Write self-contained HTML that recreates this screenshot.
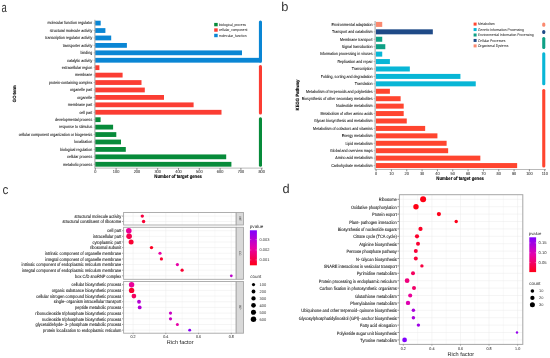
<!DOCTYPE html>
<html><head><meta charset="utf-8"><style>
html,body{margin:0;padding:0;background:#fff;}
body{width:550px;height:358px;overflow:hidden;}
svg{display:block;font-family:"Liberation Sans", sans-serif;will-change:transform;text-rendering:geometricPrecision;}
</style></head><body>
<svg width="550" height="358" viewBox="0 0 550 358">
<rect width="550" height="358" fill="#fff"/>
<g transform="translate(1.6,12.0) scale(0.7,1)">
<text x="0.00" y="0.00" font-size="13.5" text-anchor="start" fill="#333" font-weight="normal" >a</text>
</g>
<rect x="95.20" y="20.70" width="5.50" height="4.80" fill="#0a86d4" />
<text transform="translate(92.20,24.40) scale(0.8475,1)" font-size="4.272" text-anchor="end" fill="#111" font-weight="normal" stroke="#111" stroke-width="0.07">molecular function regulator</text>
<line x1="93.60" y1="23.10" x2="95.00" y2="23.10" stroke="#8a8a8a" stroke-width="0.5"/>
<rect x="95.20" y="28.13" width="10.20" height="4.80" fill="#0a86d4" />
<text transform="translate(92.20,31.83) scale(0.8475,1)" font-size="4.272" text-anchor="end" fill="#111" font-weight="normal" stroke="#111" stroke-width="0.07">structural molecule activity</text>
<line x1="93.60" y1="30.53" x2="95.00" y2="30.53" stroke="#8a8a8a" stroke-width="0.5"/>
<rect x="95.20" y="35.56" width="16.00" height="4.80" fill="#0a86d4" />
<text transform="translate(92.20,39.26) scale(0.8475,1)" font-size="4.272" text-anchor="end" fill="#111" font-weight="normal" stroke="#111" stroke-width="0.07">transcription regulator activity</text>
<line x1="93.60" y1="37.96" x2="95.00" y2="37.96" stroke="#8a8a8a" stroke-width="0.5"/>
<rect x="95.20" y="42.99" width="31.70" height="4.80" fill="#0a86d4" />
<text transform="translate(92.20,46.69) scale(0.8475,1)" font-size="4.272" text-anchor="end" fill="#111" font-weight="normal" stroke="#111" stroke-width="0.07">transporter activity</text>
<line x1="93.60" y1="45.39" x2="95.00" y2="45.39" stroke="#8a8a8a" stroke-width="0.5"/>
<rect x="95.20" y="50.42" width="146.80" height="4.80" fill="#0a86d4" />
<text transform="translate(92.20,54.12) scale(0.8475,1)" font-size="4.272" text-anchor="end" fill="#111" font-weight="normal" stroke="#111" stroke-width="0.07">binding</text>
<line x1="93.60" y1="52.82" x2="95.00" y2="52.82" stroke="#8a8a8a" stroke-width="0.5"/>
<rect x="95.20" y="57.85" width="166.30" height="4.80" fill="#0a86d4" />
<text transform="translate(92.20,61.55) scale(0.8475,1)" font-size="4.272" text-anchor="end" fill="#111" font-weight="normal" stroke="#111" stroke-width="0.07">catalytic activity</text>
<line x1="93.60" y1="60.25" x2="95.00" y2="60.25" stroke="#8a8a8a" stroke-width="0.5"/>
<rect x="95.20" y="65.28" width="4.20" height="4.80" fill="#fb3d33" />
<text transform="translate(92.20,68.98) scale(0.8475,1)" font-size="4.272" text-anchor="end" fill="#111" font-weight="normal" stroke="#111" stroke-width="0.07">extracellular region</text>
<line x1="93.60" y1="67.68" x2="95.00" y2="67.68" stroke="#8a8a8a" stroke-width="0.5"/>
<rect x="95.20" y="72.71" width="27.40" height="4.80" fill="#fb3d33" />
<text transform="translate(92.20,76.41) scale(0.8475,1)" font-size="4.272" text-anchor="end" fill="#111" font-weight="normal" stroke="#111" stroke-width="0.07">membrane</text>
<line x1="93.60" y1="75.11" x2="95.00" y2="75.11" stroke="#8a8a8a" stroke-width="0.5"/>
<rect x="95.20" y="80.14" width="46.30" height="4.80" fill="#fb3d33" />
<text transform="translate(92.20,83.84) scale(0.8475,1)" font-size="4.272" text-anchor="end" fill="#111" font-weight="normal" stroke="#111" stroke-width="0.07">protein-containing complex</text>
<line x1="93.60" y1="82.54" x2="95.00" y2="82.54" stroke="#8a8a8a" stroke-width="0.5"/>
<rect x="95.20" y="87.57" width="49.60" height="4.80" fill="#fb3d33" />
<text transform="translate(92.20,91.27) scale(0.8475,1)" font-size="4.272" text-anchor="end" fill="#111" font-weight="normal" stroke="#111" stroke-width="0.07">organelle part</text>
<line x1="93.60" y1="89.97" x2="95.00" y2="89.97" stroke="#8a8a8a" stroke-width="0.5"/>
<rect x="95.20" y="95.00" width="68.80" height="4.80" fill="#fb3d33" />
<text transform="translate(92.20,98.70) scale(0.8475,1)" font-size="4.272" text-anchor="end" fill="#111" font-weight="normal" stroke="#111" stroke-width="0.07">organelle</text>
<line x1="93.60" y1="97.40" x2="95.00" y2="97.40" stroke="#8a8a8a" stroke-width="0.5"/>
<rect x="95.20" y="102.43" width="98.40" height="4.80" fill="#fb3d33" />
<text transform="translate(92.20,106.13) scale(0.8475,1)" font-size="4.272" text-anchor="end" fill="#111" font-weight="normal" stroke="#111" stroke-width="0.07">membrane part</text>
<line x1="93.60" y1="104.83" x2="95.00" y2="104.83" stroke="#8a8a8a" stroke-width="0.5"/>
<rect x="95.20" y="109.86" width="126.30" height="4.80" fill="#fb3d33" />
<text transform="translate(92.20,113.56) scale(0.8475,1)" font-size="4.272" text-anchor="end" fill="#111" font-weight="normal" stroke="#111" stroke-width="0.07">cell part</text>
<line x1="93.60" y1="112.26" x2="95.00" y2="112.26" stroke="#8a8a8a" stroke-width="0.5"/>
<rect x="95.20" y="117.29" width="5.40" height="4.80" fill="#078b3a" />
<text transform="translate(92.20,120.99) scale(0.8475,1)" font-size="4.272" text-anchor="end" fill="#111" font-weight="normal" stroke="#111" stroke-width="0.07">developmental process</text>
<line x1="93.60" y1="119.69" x2="95.00" y2="119.69" stroke="#8a8a8a" stroke-width="0.5"/>
<rect x="95.20" y="124.72" width="17.90" height="4.80" fill="#078b3a" />
<text transform="translate(92.20,128.42) scale(0.8475,1)" font-size="4.272" text-anchor="end" fill="#111" font-weight="normal" stroke="#111" stroke-width="0.07">response to stimulus</text>
<line x1="93.60" y1="127.12" x2="95.00" y2="127.12" stroke="#8a8a8a" stroke-width="0.5"/>
<rect x="95.20" y="132.15" width="21.10" height="4.80" fill="#078b3a" />
<text transform="translate(92.20,135.85) scale(0.8475,1)" font-size="4.272" text-anchor="end" fill="#111" font-weight="normal" stroke="#111" stroke-width="0.07">cellular component organization or biogenesis</text>
<line x1="93.60" y1="134.55" x2="95.00" y2="134.55" stroke="#8a8a8a" stroke-width="0.5"/>
<rect x="95.20" y="139.58" width="25.80" height="4.80" fill="#078b3a" />
<text transform="translate(92.20,143.28) scale(0.8475,1)" font-size="4.272" text-anchor="end" fill="#111" font-weight="normal" stroke="#111" stroke-width="0.07">localization</text>
<line x1="93.60" y1="141.98" x2="95.00" y2="141.98" stroke="#8a8a8a" stroke-width="0.5"/>
<rect x="95.20" y="147.01" width="30.60" height="4.80" fill="#078b3a" />
<text transform="translate(92.20,150.71) scale(0.8475,1)" font-size="4.272" text-anchor="end" fill="#111" font-weight="normal" stroke="#111" stroke-width="0.07">biological regulation</text>
<line x1="93.60" y1="149.41" x2="95.00" y2="149.41" stroke="#8a8a8a" stroke-width="0.5"/>
<rect x="95.20" y="154.44" width="131.00" height="4.80" fill="#078b3a" />
<text transform="translate(92.20,158.14) scale(0.8475,1)" font-size="4.272" text-anchor="end" fill="#111" font-weight="normal" stroke="#111" stroke-width="0.07">cellular process</text>
<line x1="93.60" y1="156.84" x2="95.00" y2="156.84" stroke="#8a8a8a" stroke-width="0.5"/>
<rect x="95.20" y="161.87" width="136.20" height="4.80" fill="#078b3a" />
<text transform="translate(92.20,165.57) scale(0.8475,1)" font-size="4.272" text-anchor="end" fill="#111" font-weight="normal" stroke="#111" stroke-width="0.07">metabolic process</text>
<line x1="93.60" y1="164.27" x2="95.00" y2="164.27" stroke="#8a8a8a" stroke-width="0.5"/>
<line x1="94.90" y1="19.80" x2="94.90" y2="168.30" stroke="#8a8a8a" stroke-width="0.8"/>
<line x1="94.90" y1="168.10" x2="262.80" y2="168.10" stroke="#8a8a8a" stroke-width="0.6"/>
<line x1="95.30" y1="168.10" x2="95.30" y2="169.90" stroke="#555" stroke-width="0.7"/>
<text transform="translate(95.30,173.40) scale(0.8929,1)" font-size="4.368" text-anchor="middle" fill="#333" font-weight="normal" stroke="#333" stroke-width="0.06">0</text>
<line x1="116.10" y1="168.10" x2="116.10" y2="169.90" stroke="#555" stroke-width="0.7"/>
<text transform="translate(116.10,173.40) scale(0.8929,1)" font-size="4.368" text-anchor="middle" fill="#333" font-weight="normal" stroke="#333" stroke-width="0.06">100</text>
<line x1="136.90" y1="168.10" x2="136.90" y2="169.90" stroke="#555" stroke-width="0.7"/>
<text transform="translate(136.90,173.40) scale(0.8929,1)" font-size="4.368" text-anchor="middle" fill="#333" font-weight="normal" stroke="#333" stroke-width="0.06">200</text>
<line x1="157.70" y1="168.10" x2="157.70" y2="169.90" stroke="#555" stroke-width="0.7"/>
<text transform="translate(157.70,173.40) scale(0.8929,1)" font-size="4.368" text-anchor="middle" fill="#333" font-weight="normal" stroke="#333" stroke-width="0.06">300</text>
<line x1="178.50" y1="168.10" x2="178.50" y2="169.90" stroke="#555" stroke-width="0.7"/>
<text transform="translate(178.50,173.40) scale(0.8929,1)" font-size="4.368" text-anchor="middle" fill="#333" font-weight="normal" stroke="#333" stroke-width="0.06">400</text>
<line x1="199.30" y1="168.10" x2="199.30" y2="169.90" stroke="#555" stroke-width="0.7"/>
<text transform="translate(199.30,173.40) scale(0.8929,1)" font-size="4.368" text-anchor="middle" fill="#333" font-weight="normal" stroke="#333" stroke-width="0.06">500</text>
<line x1="220.10" y1="168.10" x2="220.10" y2="169.90" stroke="#555" stroke-width="0.7"/>
<text transform="translate(220.10,173.40) scale(0.8929,1)" font-size="4.368" text-anchor="middle" fill="#333" font-weight="normal" stroke="#333" stroke-width="0.06">600</text>
<line x1="240.90" y1="168.10" x2="240.90" y2="169.90" stroke="#555" stroke-width="0.7"/>
<text transform="translate(240.90,173.40) scale(0.8929,1)" font-size="4.368" text-anchor="middle" fill="#333" font-weight="normal" stroke="#333" stroke-width="0.06">700</text>
<line x1="261.70" y1="168.10" x2="261.70" y2="169.90" stroke="#555" stroke-width="0.7"/>
<text transform="translate(261.70,173.40) scale(0.8929,1)" font-size="4.368" text-anchor="middle" fill="#333" font-weight="normal" stroke="#333" stroke-width="0.06">800</text>
<rect x="258.90" y="20.50" width="3.10" height="42.00" fill="#0a86d4" rx="1.5"/>
<rect x="258.90" y="65.10" width="3.10" height="49.50" fill="#fb3d33" rx="1.5"/>
<rect x="258.90" y="117.20" width="3.10" height="49.50" fill="#078b3a" rx="1.5"/>
<text transform="translate(178.10,178.43) scale(0.8475,1)" font-size="5.015" text-anchor="middle" fill="#000" font-weight="bold" stroke="#000" stroke-width="0.12">Number of target genes</text>
<g transform="translate(14.3,93.7) rotate(-90)">
<text transform="translate(0.00,1.53) scale(0.9091,1)" font-size="4.675" text-anchor="middle" fill="#000" font-weight="bold" stroke="#000" stroke-width="0.12">GO term</text>
</g>
<rect x="214.20" y="22.90" width="3.50" height="3.40" fill="#078b3a" />
<text transform="translate(218.90,25.79) scale(0.8696,1)" font-size="3.795" text-anchor="start" fill="#222" font-weight="normal" stroke="#222" stroke-width="0.03">biological_process</text>
<rect x="214.20" y="28.35" width="3.50" height="3.40" fill="#fb3d33" />
<text transform="translate(218.90,31.24) scale(0.8696,1)" font-size="3.795" text-anchor="start" fill="#222" font-weight="normal" stroke="#222" stroke-width="0.03">cellular_component</text>
<rect x="214.20" y="33.80" width="3.50" height="3.40" fill="#0a86d4" />
<text transform="translate(218.90,36.69) scale(0.8696,1)" font-size="3.795" text-anchor="start" fill="#222" font-weight="normal" stroke="#222" stroke-width="0.03">molecular_function</text>
<text x="281.30" y="11.20" font-size="12.8" text-anchor="start" fill="#333" font-weight="normal" >b</text>
<rect x="375.95" y="21.90" width="6.28" height="5.00" fill="#fa8a70" />
<text transform="translate(372.60,25.70) scale(0.8475,1)" font-size="4.272" text-anchor="end" fill="#111" font-weight="normal" stroke="#111" stroke-width="0.07">Environmental adaptation</text>
<line x1="373.60" y1="24.40" x2="375.20" y2="24.40" stroke="#8a8a8a" stroke-width="0.5"/>
<rect x="375.95" y="29.33" width="56.87" height="5.00" fill="#1f4a87" />
<text transform="translate(372.60,33.13) scale(0.8475,1)" font-size="4.272" text-anchor="end" fill="#111" font-weight="normal" stroke="#111" stroke-width="0.07">Transport and catabolism</text>
<line x1="373.60" y1="31.83" x2="375.20" y2="31.83" stroke="#8a8a8a" stroke-width="0.5"/>
<rect x="375.95" y="36.76" width="6.28" height="5.00" fill="#0ea085" />
<text transform="translate(372.60,40.56) scale(0.8475,1)" font-size="4.272" text-anchor="end" fill="#111" font-weight="normal" stroke="#111" stroke-width="0.07">Membrane transport</text>
<line x1="373.60" y1="39.26" x2="375.20" y2="39.26" stroke="#8a8a8a" stroke-width="0.5"/>
<rect x="375.95" y="44.19" width="9.35" height="5.00" fill="#0ea085" />
<text transform="translate(372.60,47.99) scale(0.8475,1)" font-size="4.272" text-anchor="end" fill="#111" font-weight="normal" stroke="#111" stroke-width="0.07">Signal transduction</text>
<line x1="373.60" y1="46.69" x2="375.20" y2="46.69" stroke="#8a8a8a" stroke-width="0.5"/>
<rect x="375.95" y="51.62" width="6.28" height="5.00" fill="#08b6d6" />
<text transform="translate(372.60,55.42) scale(0.8475,1)" font-size="4.272" text-anchor="end" fill="#111" font-weight="normal" stroke="#111" stroke-width="0.07">Information processing in viruses</text>
<line x1="373.60" y1="54.12" x2="375.20" y2="54.12" stroke="#8a8a8a" stroke-width="0.5"/>
<rect x="375.95" y="59.05" width="13.95" height="5.00" fill="#08b6d6" />
<text transform="translate(372.60,62.85) scale(0.8475,1)" font-size="4.272" text-anchor="end" fill="#111" font-weight="normal" stroke="#111" stroke-width="0.07">Replication and repair</text>
<line x1="373.60" y1="61.55" x2="375.20" y2="61.55" stroke="#8a8a8a" stroke-width="0.5"/>
<rect x="375.95" y="66.48" width="33.88" height="5.00" fill="#08b6d6" />
<text transform="translate(372.60,70.28) scale(0.8475,1)" font-size="4.272" text-anchor="end" fill="#111" font-weight="normal" stroke="#111" stroke-width="0.07">Transcription</text>
<line x1="373.60" y1="68.98" x2="375.20" y2="68.98" stroke="#8a8a8a" stroke-width="0.5"/>
<rect x="375.95" y="73.91" width="84.47" height="5.00" fill="#08b6d6" />
<text transform="translate(372.60,77.71) scale(0.8475,1)" font-size="4.272" text-anchor="end" fill="#111" font-weight="normal" stroke="#111" stroke-width="0.07">Folding, sorting and degradation</text>
<line x1="373.60" y1="76.41" x2="375.20" y2="76.41" stroke="#8a8a8a" stroke-width="0.5"/>
<rect x="375.95" y="81.34" width="99.80" height="5.00" fill="#08b6d6" />
<text transform="translate(372.60,85.14) scale(0.8475,1)" font-size="4.272" text-anchor="end" fill="#111" font-weight="normal" stroke="#111" stroke-width="0.07">Translation</text>
<line x1="373.60" y1="83.84" x2="375.20" y2="83.84" stroke="#8a8a8a" stroke-width="0.5"/>
<rect x="375.95" y="88.77" width="13.95" height="5.00" fill="#ff452f" />
<text transform="translate(372.60,92.57) scale(0.8475,1)" font-size="4.272" text-anchor="end" fill="#111" font-weight="normal" stroke="#111" stroke-width="0.07">Metabolism of terpenoids and polyketides</text>
<line x1="373.60" y1="91.27" x2="375.20" y2="91.27" stroke="#8a8a8a" stroke-width="0.5"/>
<rect x="375.95" y="96.20" width="24.68" height="5.00" fill="#ff452f" />
<text transform="translate(372.60,100.00) scale(0.8475,1)" font-size="4.272" text-anchor="end" fill="#111" font-weight="normal" stroke="#111" stroke-width="0.07">Biosynthesis of other secondary metabolites</text>
<line x1="373.60" y1="98.70" x2="375.20" y2="98.70" stroke="#8a8a8a" stroke-width="0.5"/>
<rect x="375.95" y="103.63" width="27.74" height="5.00" fill="#ff452f" />
<text transform="translate(372.60,107.43) scale(0.8475,1)" font-size="4.272" text-anchor="end" fill="#111" font-weight="normal" stroke="#111" stroke-width="0.07">Nucleotide metabolism</text>
<line x1="373.60" y1="106.13" x2="375.20" y2="106.13" stroke="#8a8a8a" stroke-width="0.5"/>
<rect x="375.95" y="111.06" width="27.74" height="5.00" fill="#ff452f" />
<text transform="translate(372.60,114.86) scale(0.8475,1)" font-size="4.272" text-anchor="end" fill="#111" font-weight="normal" stroke="#111" stroke-width="0.07">Metabolism of other amino acids</text>
<line x1="373.60" y1="113.56" x2="375.20" y2="113.56" stroke="#8a8a8a" stroke-width="0.5"/>
<rect x="375.95" y="118.49" width="30.81" height="5.00" fill="#ff452f" />
<text transform="translate(372.60,122.29) scale(0.8475,1)" font-size="4.272" text-anchor="end" fill="#111" font-weight="normal" stroke="#111" stroke-width="0.07">Glycan biosynthesis and metabolism</text>
<line x1="373.60" y1="120.99" x2="375.20" y2="120.99" stroke="#8a8a8a" stroke-width="0.5"/>
<rect x="375.95" y="125.92" width="49.21" height="5.00" fill="#ff452f" />
<text transform="translate(372.60,129.72) scale(0.8475,1)" font-size="4.272" text-anchor="end" fill="#111" font-weight="normal" stroke="#111" stroke-width="0.07">Metabolism of cofactors and vitamins</text>
<line x1="373.60" y1="128.42" x2="375.20" y2="128.42" stroke="#8a8a8a" stroke-width="0.5"/>
<rect x="375.95" y="133.35" width="61.47" height="5.00" fill="#ff452f" />
<text transform="translate(372.60,137.15) scale(0.8475,1)" font-size="4.272" text-anchor="end" fill="#111" font-weight="normal" stroke="#111" stroke-width="0.07">Energy metabolism</text>
<line x1="373.60" y1="135.85" x2="375.20" y2="135.85" stroke="#8a8a8a" stroke-width="0.5"/>
<rect x="375.95" y="140.78" width="70.67" height="5.00" fill="#ff452f" />
<text transform="translate(372.60,144.58) scale(0.8475,1)" font-size="4.272" text-anchor="end" fill="#111" font-weight="normal" stroke="#111" stroke-width="0.07">Lipid metabolism</text>
<line x1="373.60" y1="143.28" x2="375.20" y2="143.28" stroke="#8a8a8a" stroke-width="0.5"/>
<rect x="375.95" y="148.21" width="72.20" height="5.00" fill="#ff452f" />
<text transform="translate(372.60,152.01) scale(0.8475,1)" font-size="4.272" text-anchor="end" fill="#111" font-weight="normal" stroke="#111" stroke-width="0.07">Global and overview maps</text>
<line x1="373.60" y1="150.71" x2="375.20" y2="150.71" stroke="#8a8a8a" stroke-width="0.5"/>
<rect x="375.95" y="155.64" width="104.39" height="5.00" fill="#ff452f" />
<text transform="translate(372.60,159.44) scale(0.8475,1)" font-size="4.272" text-anchor="end" fill="#111" font-weight="normal" stroke="#111" stroke-width="0.07">Amino acid metabolism</text>
<line x1="373.60" y1="158.14" x2="375.20" y2="158.14" stroke="#8a8a8a" stroke-width="0.5"/>
<rect x="375.95" y="163.07" width="141.19" height="5.00" fill="#ff452f" />
<text transform="translate(372.60,166.87) scale(0.8475,1)" font-size="4.272" text-anchor="end" fill="#111" font-weight="normal" stroke="#111" stroke-width="0.07">Carbohydrate metabolism</text>
<line x1="373.60" y1="165.57" x2="375.20" y2="165.57" stroke="#8a8a8a" stroke-width="0.5"/>
<line x1="375.10" y1="21.00" x2="375.10" y2="169.60" stroke="#8a8a8a" stroke-width="0.8"/>
<line x1="375.10" y1="169.50" x2="546.00" y2="169.50" stroke="#8a8a8a" stroke-width="0.6"/>
<line x1="376.10" y1="169.50" x2="376.10" y2="171.30" stroke="#555" stroke-width="0.7"/>
<text transform="translate(376.10,174.90) scale(0.8929,1)" font-size="4.368" text-anchor="middle" fill="#333" font-weight="normal" stroke="#333" stroke-width="0.06">0</text>
<line x1="391.43" y1="169.50" x2="391.43" y2="171.30" stroke="#555" stroke-width="0.7"/>
<text transform="translate(391.43,174.90) scale(0.8929,1)" font-size="4.368" text-anchor="middle" fill="#333" font-weight="normal" stroke="#333" stroke-width="0.06">10</text>
<line x1="406.76" y1="169.50" x2="406.76" y2="171.30" stroke="#555" stroke-width="0.7"/>
<text transform="translate(406.76,174.90) scale(0.8929,1)" font-size="4.368" text-anchor="middle" fill="#333" font-weight="normal" stroke="#333" stroke-width="0.06">20</text>
<line x1="422.09" y1="169.50" x2="422.09" y2="171.30" stroke="#555" stroke-width="0.7"/>
<text transform="translate(422.09,174.90) scale(0.8929,1)" font-size="4.368" text-anchor="middle" fill="#333" font-weight="normal" stroke="#333" stroke-width="0.06">30</text>
<line x1="437.42" y1="169.50" x2="437.42" y2="171.30" stroke="#555" stroke-width="0.7"/>
<text transform="translate(437.42,174.90) scale(0.8929,1)" font-size="4.368" text-anchor="middle" fill="#333" font-weight="normal" stroke="#333" stroke-width="0.06">40</text>
<line x1="452.75" y1="169.50" x2="452.75" y2="171.30" stroke="#555" stroke-width="0.7"/>
<text transform="translate(452.75,174.90) scale(0.8929,1)" font-size="4.368" text-anchor="middle" fill="#333" font-weight="normal" stroke="#333" stroke-width="0.06">50</text>
<line x1="468.08" y1="169.50" x2="468.08" y2="171.30" stroke="#555" stroke-width="0.7"/>
<text transform="translate(468.08,174.90) scale(0.8929,1)" font-size="4.368" text-anchor="middle" fill="#333" font-weight="normal" stroke="#333" stroke-width="0.06">60</text>
<line x1="483.41" y1="169.50" x2="483.41" y2="171.30" stroke="#555" stroke-width="0.7"/>
<text transform="translate(483.41,174.90) scale(0.8929,1)" font-size="4.368" text-anchor="middle" fill="#333" font-weight="normal" stroke="#333" stroke-width="0.06">70</text>
<line x1="498.74" y1="169.50" x2="498.74" y2="171.30" stroke="#555" stroke-width="0.7"/>
<text transform="translate(498.74,174.90) scale(0.8929,1)" font-size="4.368" text-anchor="middle" fill="#333" font-weight="normal" stroke="#333" stroke-width="0.06">80</text>
<line x1="514.07" y1="169.50" x2="514.07" y2="171.30" stroke="#555" stroke-width="0.7"/>
<text transform="translate(514.07,174.90) scale(0.8929,1)" font-size="4.368" text-anchor="middle" fill="#333" font-weight="normal" stroke="#333" stroke-width="0.06">90</text>
<line x1="529.40" y1="169.50" x2="529.40" y2="171.30" stroke="#555" stroke-width="0.7"/>
<text transform="translate(529.40,174.90) scale(0.8929,1)" font-size="4.368" text-anchor="middle" fill="#333" font-weight="normal" stroke="#333" stroke-width="0.06">100</text>
<line x1="544.73" y1="169.50" x2="544.73" y2="171.30" stroke="#555" stroke-width="0.7"/>
<text transform="translate(544.73,174.90) scale(0.8929,1)" font-size="4.368" text-anchor="middle" fill="#333" font-weight="normal" stroke="#333" stroke-width="0.06">110</text>
<rect x="542.20" y="22.40" width="3.10" height="4.30" fill="#fa8a70" rx="1.5"/>
<rect x="542.20" y="29.90" width="3.10" height="4.10" fill="#1f4a87" rx="1.5"/>
<rect x="542.20" y="36.90" width="3.10" height="12.10" fill="#0ea085" rx="1.5"/>
<rect x="542.20" y="52.20" width="3.10" height="33.00" fill="#08b6d6" rx="1.5"/>
<rect x="542.20" y="88.90" width="3.10" height="78.50" fill="#ff452f" rx="1.5"/>
<text transform="translate(460.10,180.13) scale(0.8475,1)" font-size="5.015" text-anchor="middle" fill="#000" font-weight="bold" stroke="#000" stroke-width="0.12">Number of target genes</text>
<g transform="translate(297.2,95) rotate(-90)">
<text transform="translate(0.00,1.53) scale(0.9091,1)" font-size="4.675" text-anchor="middle" fill="#000" font-weight="bold" stroke="#000" stroke-width="0.12">KEGG Pathway</text>
</g>
<rect x="473.60" y="22.60" width="3.00" height="3.00" fill="#ff452f" />
<text transform="translate(478.00,25.29) scale(0.8696,1)" font-size="3.795" text-anchor="start" fill="#222" font-weight="normal" stroke="#222" stroke-width="0.03">Metabolism</text>
<rect x="473.60" y="28.05" width="3.00" height="3.00" fill="#08b6d6" />
<text transform="translate(478.00,30.74) scale(0.8696,1)" font-size="3.795" text-anchor="start" fill="#222" font-weight="normal" stroke="#222" stroke-width="0.03">Genetic Information Processing</text>
<rect x="473.60" y="33.50" width="3.00" height="3.00" fill="#0ea085" />
<text transform="translate(478.00,36.19) scale(0.8696,1)" font-size="3.795" text-anchor="start" fill="#222" font-weight="normal" stroke="#222" stroke-width="0.03">Environmental Information Processing</text>
<rect x="473.60" y="38.95" width="3.00" height="3.00" fill="#1f4a87" />
<text transform="translate(478.00,41.64) scale(0.8696,1)" font-size="3.795" text-anchor="start" fill="#222" font-weight="normal" stroke="#222" stroke-width="0.03">Cellular Processes</text>
<rect x="473.60" y="44.40" width="3.00" height="3.00" fill="#fa8a70" />
<text transform="translate(478.00,47.09) scale(0.8696,1)" font-size="3.795" text-anchor="start" fill="#222" font-weight="normal" stroke="#222" stroke-width="0.03">Organismal Systems</text>
<g transform="translate(2.5,194.0) scale(0.9,1)">
<text x="0.00" y="0.00" font-size="13.0" text-anchor="start" fill="#3a3a3a" font-weight="normal" >c</text>
</g>
<rect x="123.60" y="212.50" width="112.60" height="12.50" fill="#ffffff" />
<line x1="133.10" y1="212.50" x2="133.10" y2="225.00" stroke="#ebebeb" stroke-width="0.5"/>
<line x1="149.46" y1="212.50" x2="149.46" y2="225.00" stroke="#ebebeb" stroke-width="0.3"/>
<line x1="165.82" y1="212.50" x2="165.82" y2="225.00" stroke="#ebebeb" stroke-width="0.5"/>
<line x1="182.18" y1="212.50" x2="182.18" y2="225.00" stroke="#ebebeb" stroke-width="0.3"/>
<line x1="198.54" y1="212.50" x2="198.54" y2="225.00" stroke="#ebebeb" stroke-width="0.5"/>
<line x1="214.90" y1="212.50" x2="214.90" y2="225.00" stroke="#ebebeb" stroke-width="0.3"/>
<line x1="231.26" y1="212.50" x2="231.26" y2="225.00" stroke="#ebebeb" stroke-width="0.5"/>
<line x1="123.60" y1="216.10" x2="236.20" y2="216.10" stroke="#ebebeb" stroke-width="0.5"/>
<line x1="123.60" y1="221.50" x2="236.20" y2="221.50" stroke="#ebebeb" stroke-width="0.5"/>
<rect x="123.60" y="227.30" width="112.60" height="52.00" fill="#ffffff" />
<line x1="133.10" y1="227.30" x2="133.10" y2="279.30" stroke="#ebebeb" stroke-width="0.5"/>
<line x1="149.46" y1="227.30" x2="149.46" y2="279.30" stroke="#ebebeb" stroke-width="0.3"/>
<line x1="165.82" y1="227.30" x2="165.82" y2="279.30" stroke="#ebebeb" stroke-width="0.5"/>
<line x1="182.18" y1="227.30" x2="182.18" y2="279.30" stroke="#ebebeb" stroke-width="0.3"/>
<line x1="198.54" y1="227.30" x2="198.54" y2="279.30" stroke="#ebebeb" stroke-width="0.5"/>
<line x1="214.90" y1="227.30" x2="214.90" y2="279.30" stroke="#ebebeb" stroke-width="0.3"/>
<line x1="231.26" y1="227.30" x2="231.26" y2="279.30" stroke="#ebebeb" stroke-width="0.5"/>
<line x1="123.60" y1="230.70" x2="236.20" y2="230.70" stroke="#ebebeb" stroke-width="0.5"/>
<line x1="123.60" y1="236.34" x2="236.20" y2="236.34" stroke="#ebebeb" stroke-width="0.5"/>
<line x1="123.60" y1="241.98" x2="236.20" y2="241.98" stroke="#ebebeb" stroke-width="0.5"/>
<line x1="123.60" y1="247.62" x2="236.20" y2="247.62" stroke="#ebebeb" stroke-width="0.5"/>
<line x1="123.60" y1="253.26" x2="236.20" y2="253.26" stroke="#ebebeb" stroke-width="0.5"/>
<line x1="123.60" y1="258.90" x2="236.20" y2="258.90" stroke="#ebebeb" stroke-width="0.5"/>
<line x1="123.60" y1="264.54" x2="236.20" y2="264.54" stroke="#ebebeb" stroke-width="0.5"/>
<line x1="123.60" y1="270.18" x2="236.20" y2="270.18" stroke="#ebebeb" stroke-width="0.5"/>
<line x1="123.60" y1="275.82" x2="236.20" y2="275.82" stroke="#ebebeb" stroke-width="0.5"/>
<rect x="123.60" y="281.50" width="112.60" height="51.70" fill="#ffffff" />
<line x1="133.10" y1="281.50" x2="133.10" y2="333.20" stroke="#ebebeb" stroke-width="0.5"/>
<line x1="149.46" y1="281.50" x2="149.46" y2="333.20" stroke="#ebebeb" stroke-width="0.3"/>
<line x1="165.82" y1="281.50" x2="165.82" y2="333.20" stroke="#ebebeb" stroke-width="0.5"/>
<line x1="182.18" y1="281.50" x2="182.18" y2="333.20" stroke="#ebebeb" stroke-width="0.3"/>
<line x1="198.54" y1="281.50" x2="198.54" y2="333.20" stroke="#ebebeb" stroke-width="0.5"/>
<line x1="214.90" y1="281.50" x2="214.90" y2="333.20" stroke="#ebebeb" stroke-width="0.3"/>
<line x1="231.26" y1="281.50" x2="231.26" y2="333.20" stroke="#ebebeb" stroke-width="0.5"/>
<line x1="123.60" y1="284.70" x2="236.20" y2="284.70" stroke="#ebebeb" stroke-width="0.5"/>
<line x1="123.60" y1="290.38" x2="236.20" y2="290.38" stroke="#ebebeb" stroke-width="0.5"/>
<line x1="123.60" y1="296.06" x2="236.20" y2="296.06" stroke="#ebebeb" stroke-width="0.5"/>
<line x1="123.60" y1="301.74" x2="236.20" y2="301.74" stroke="#ebebeb" stroke-width="0.5"/>
<line x1="123.60" y1="307.42" x2="236.20" y2="307.42" stroke="#ebebeb" stroke-width="0.5"/>
<line x1="123.60" y1="313.10" x2="236.20" y2="313.10" stroke="#ebebeb" stroke-width="0.5"/>
<line x1="123.60" y1="318.78" x2="236.20" y2="318.78" stroke="#ebebeb" stroke-width="0.5"/>
<line x1="123.60" y1="324.46" x2="236.20" y2="324.46" stroke="#ebebeb" stroke-width="0.5"/>
<line x1="123.60" y1="330.14" x2="236.20" y2="330.14" stroke="#ebebeb" stroke-width="0.5"/>
<text transform="translate(121.30,217.84) scale(0.8475,1)" font-size="4.720" text-anchor="end" fill="#111" font-weight="normal" stroke="#111" stroke-width="0.07">structural molecule activity</text>
<line x1="122.20" y1="216.10" x2="123.60" y2="216.10" stroke="#444" stroke-width="0.6"/>
<text transform="translate(121.30,223.24) scale(0.8475,1)" font-size="4.720" text-anchor="end" fill="#111" font-weight="normal" stroke="#111" stroke-width="0.07">structural constituent of ribosome</text>
<line x1="122.20" y1="221.50" x2="123.60" y2="221.50" stroke="#444" stroke-width="0.6"/>
<text transform="translate(121.30,232.44) scale(0.8475,1)" font-size="4.720" text-anchor="end" fill="#111" font-weight="normal" stroke="#111" stroke-width="0.07">cell part</text>
<line x1="122.20" y1="230.70" x2="123.60" y2="230.70" stroke="#444" stroke-width="0.6"/>
<text transform="translate(121.30,238.08) scale(0.8475,1)" font-size="4.720" text-anchor="end" fill="#111" font-weight="normal" stroke="#111" stroke-width="0.07">intracellular part</text>
<line x1="122.20" y1="236.34" x2="123.60" y2="236.34" stroke="#444" stroke-width="0.6"/>
<text transform="translate(121.30,243.72) scale(0.8475,1)" font-size="4.720" text-anchor="end" fill="#111" font-weight="normal" stroke="#111" stroke-width="0.07">cytoplasmic part</text>
<line x1="122.20" y1="241.98" x2="123.60" y2="241.98" stroke="#444" stroke-width="0.6"/>
<text transform="translate(121.30,249.36) scale(0.8475,1)" font-size="4.720" text-anchor="end" fill="#111" font-weight="normal" stroke="#111" stroke-width="0.07">ribosomal subunit</text>
<line x1="122.20" y1="247.62" x2="123.60" y2="247.62" stroke="#444" stroke-width="0.6"/>
<text transform="translate(121.30,255.00) scale(0.8475,1)" font-size="4.720" text-anchor="end" fill="#111" font-weight="normal" stroke="#111" stroke-width="0.07">intrinsic component of organelle membrane</text>
<line x1="122.20" y1="253.26" x2="123.60" y2="253.26" stroke="#444" stroke-width="0.6"/>
<text transform="translate(121.30,260.64) scale(0.8475,1)" font-size="4.720" text-anchor="end" fill="#111" font-weight="normal" stroke="#111" stroke-width="0.07">integral component of organelle membrane</text>
<line x1="122.20" y1="258.90" x2="123.60" y2="258.90" stroke="#444" stroke-width="0.6"/>
<text transform="translate(121.30,266.28) scale(0.8475,1)" font-size="4.720" text-anchor="end" fill="#111" font-weight="normal" stroke="#111" stroke-width="0.07">intrinsic component of endoplasmic reticulum membrane</text>
<line x1="122.20" y1="264.54" x2="123.60" y2="264.54" stroke="#444" stroke-width="0.6"/>
<text transform="translate(121.30,271.92) scale(0.8475,1)" font-size="4.720" text-anchor="end" fill="#111" font-weight="normal" stroke="#111" stroke-width="0.07">integral component of endoplasmic reticulum membrane</text>
<line x1="122.20" y1="270.18" x2="123.60" y2="270.18" stroke="#444" stroke-width="0.6"/>
<text transform="translate(121.30,277.56) scale(0.8475,1)" font-size="4.720" text-anchor="end" fill="#111" font-weight="normal" stroke="#111" stroke-width="0.07">box C/D snoRNP complex</text>
<line x1="122.20" y1="275.82" x2="123.60" y2="275.82" stroke="#444" stroke-width="0.6"/>
<text transform="translate(121.30,286.44) scale(0.8475,1)" font-size="4.720" text-anchor="end" fill="#111" font-weight="normal" stroke="#111" stroke-width="0.07">cellular biosynthetic process</text>
<line x1="122.20" y1="284.70" x2="123.60" y2="284.70" stroke="#444" stroke-width="0.6"/>
<text transform="translate(121.30,292.12) scale(0.8475,1)" font-size="4.720" text-anchor="end" fill="#111" font-weight="normal" stroke="#111" stroke-width="0.07">organic substance biosynthetic process</text>
<line x1="122.20" y1="290.38" x2="123.60" y2="290.38" stroke="#444" stroke-width="0.6"/>
<text transform="translate(121.30,297.80) scale(0.8475,1)" font-size="4.720" text-anchor="end" fill="#111" font-weight="normal" stroke="#111" stroke-width="0.07">cellular nitrogen compound biosynthetic process</text>
<line x1="122.20" y1="296.06" x2="123.60" y2="296.06" stroke="#444" stroke-width="0.6"/>
<text transform="translate(121.30,303.48) scale(0.8475,1)" font-size="4.720" text-anchor="end" fill="#111" font-weight="normal" stroke="#111" stroke-width="0.07">single- organism intracellular transport</text>
<line x1="122.20" y1="301.74" x2="123.60" y2="301.74" stroke="#444" stroke-width="0.6"/>
<text transform="translate(121.30,309.16) scale(0.8475,1)" font-size="4.720" text-anchor="end" fill="#111" font-weight="normal" stroke="#111" stroke-width="0.07">peptide metabolic process</text>
<line x1="122.20" y1="307.42" x2="123.60" y2="307.42" stroke="#444" stroke-width="0.6"/>
<text transform="translate(121.30,314.84) scale(0.8475,1)" font-size="4.720" text-anchor="end" fill="#111" font-weight="normal" stroke="#111" stroke-width="0.07">ribonucleoside triphosphate biosynthetic process</text>
<line x1="122.20" y1="313.10" x2="123.60" y2="313.10" stroke="#444" stroke-width="0.6"/>
<text transform="translate(121.30,320.52) scale(0.8475,1)" font-size="4.720" text-anchor="end" fill="#111" font-weight="normal" stroke="#111" stroke-width="0.07">nucleoside triphosphate biosynthetic process</text>
<line x1="122.20" y1="318.78" x2="123.60" y2="318.78" stroke="#444" stroke-width="0.6"/>
<text transform="translate(121.30,326.20) scale(0.8475,1)" font-size="4.720" text-anchor="end" fill="#111" font-weight="normal" stroke="#111" stroke-width="0.07">glyceraldehyde- 3- phosphate metabolic process</text>
<line x1="122.20" y1="324.46" x2="123.60" y2="324.46" stroke="#444" stroke-width="0.6"/>
<text transform="translate(121.30,331.88) scale(0.8475,1)" font-size="4.720" text-anchor="end" fill="#111" font-weight="normal" stroke="#111" stroke-width="0.07">protein localization to endoplasmic reticulum</text>
<line x1="122.20" y1="330.14" x2="123.60" y2="330.14" stroke="#444" stroke-width="0.6"/>
<circle cx="142.30" cy="216.10" r="1.70" fill="#f80040"/>
<circle cx="143.60" cy="221.50" r="1.70" fill="#fa0032"/>
<circle cx="128.80" cy="230.70" r="2.80" fill="#ea0099"/>
<circle cx="129.10" cy="236.34" r="2.80" fill="#f6004f"/>
<circle cx="131.10" cy="241.98" r="2.50" fill="#fa0032"/>
<circle cx="151.50" cy="247.62" r="1.70" fill="#fd0023"/>
<circle cx="160.00" cy="253.26" r="1.60" fill="#e800a8"/>
<circle cx="161.40" cy="258.90" r="1.60" fill="#fa0032"/>
<circle cx="177.40" cy="264.54" r="1.60" fill="#e800a8"/>
<circle cx="182.10" cy="270.18" r="1.60" fill="#fa0032"/>
<circle cx="231.30" cy="275.82" r="1.40" fill="#be00cb"/>
<circle cx="131.60" cy="284.70" r="2.70" fill="#ea0099"/>
<circle cx="131.60" cy="290.38" r="2.70" fill="#fa0032"/>
<circle cx="133.90" cy="296.06" r="2.35" fill="#f4005e"/>
<circle cx="139.00" cy="301.74" r="1.90" fill="#b400d4"/>
<circle cx="139.70" cy="307.42" r="1.90" fill="#b400d4"/>
<circle cx="170.50" cy="313.10" r="1.60" fill="#c900c2"/>
<circle cx="170.50" cy="318.78" r="1.60" fill="#c900c2"/>
<circle cx="177.40" cy="324.46" r="1.50" fill="#e800a8"/>
<circle cx="189.70" cy="330.14" r="1.45" fill="#8a00f6"/>
<rect x="123.60" y="212.50" width="112.60" height="12.50" fill="none" stroke="#a6a6a6" stroke-width="0.9"/>
<rect x="236.20" y="212.50" width="7.30" height="12.50" fill="#d9d9d9" stroke="#a6a6a6" stroke-width="0.9"/>
<g transform="translate(239.85,218.75) rotate(90)">
<text x="0.00" y="1.15" font-size="3.2" text-anchor="middle" fill="#333" font-weight="normal" >MF</text>
</g>
<rect x="123.60" y="227.30" width="112.60" height="52.00" fill="none" stroke="#a6a6a6" stroke-width="0.9"/>
<rect x="236.20" y="227.30" width="7.30" height="52.00" fill="#d9d9d9" stroke="#a6a6a6" stroke-width="0.9"/>
<g transform="translate(239.85,253.30) rotate(90)">
<text x="0.00" y="1.15" font-size="3.2" text-anchor="middle" fill="#333" font-weight="normal" >CC</text>
</g>
<rect x="123.60" y="281.50" width="112.60" height="51.70" fill="none" stroke="#a6a6a6" stroke-width="0.9"/>
<rect x="236.20" y="281.50" width="7.30" height="51.70" fill="#d9d9d9" stroke="#a6a6a6" stroke-width="0.9"/>
<g transform="translate(239.85,307.35) rotate(90)">
<text x="0.00" y="1.15" font-size="3.2" text-anchor="middle" fill="#333" font-weight="normal" >BP</text>
</g>
<line x1="133.10" y1="332.90" x2="133.10" y2="334.20" stroke="#555" stroke-width="0.4"/>
<text transform="translate(133.10,338.23) scale(0.8929,1)" font-size="4.144" text-anchor="middle" fill="#444" font-weight="normal" stroke="#333" stroke-width="0.06">0.2</text>
<line x1="165.82" y1="332.90" x2="165.82" y2="334.20" stroke="#555" stroke-width="0.4"/>
<text transform="translate(165.82,338.23) scale(0.8929,1)" font-size="4.144" text-anchor="middle" fill="#444" font-weight="normal" stroke="#333" stroke-width="0.06">0.4</text>
<line x1="198.54" y1="332.90" x2="198.54" y2="334.20" stroke="#555" stroke-width="0.4"/>
<text transform="translate(198.54,338.23) scale(0.8929,1)" font-size="4.144" text-anchor="middle" fill="#444" font-weight="normal" stroke="#333" stroke-width="0.06">0.6</text>
<line x1="231.26" y1="332.90" x2="231.26" y2="334.20" stroke="#555" stroke-width="0.4"/>
<text transform="translate(231.26,338.23) scale(0.8929,1)" font-size="4.144" text-anchor="middle" fill="#444" font-weight="normal" stroke="#333" stroke-width="0.06">0.8</text>
<text x="180.20" y="344.42" font-size="5.6" text-anchor="middle" fill="#222" font-weight="normal" >Rich factor</text>
<text x="249.80" y="228.06" font-size="4.6" text-anchor="start" fill="#222" font-weight="normal" >pvalue</text>
<defs><linearGradient id="gc" x1="0" y1="1" x2="0" y2="0"><stop offset="0" stop-color="#ff0018"/><stop offset="0.5" stop-color="#e600aa"/><stop offset="1" stop-color="#8000ff"/></linearGradient></defs>
<rect x="249.90" y="230.30" width="7.00" height="35.00" fill="url(#gc)" />
<line x1="249.90" y1="239.60" x2="251.30" y2="239.60" stroke="#fff" stroke-width="0.3"/>
<line x1="255.50" y1="239.60" x2="256.90" y2="239.60" stroke="#fff" stroke-width="0.3"/>
<text x="259.50" y="241.04" font-size="4.0" text-anchor="start" fill="#333" font-weight="normal" >0.003</text>
<line x1="249.90" y1="250.00" x2="251.30" y2="250.00" stroke="#fff" stroke-width="0.3"/>
<line x1="255.50" y1="250.00" x2="256.90" y2="250.00" stroke="#fff" stroke-width="0.3"/>
<text x="259.50" y="251.44" font-size="4.0" text-anchor="start" fill="#333" font-weight="normal" >0.002</text>
<line x1="249.90" y1="259.90" x2="251.30" y2="259.90" stroke="#fff" stroke-width="0.3"/>
<line x1="255.50" y1="259.90" x2="256.90" y2="259.90" stroke="#fff" stroke-width="0.3"/>
<text x="259.50" y="261.34" font-size="4.0" text-anchor="start" fill="#333" font-weight="normal" >0.001</text>
<text x="250.30" y="278.22" font-size="4.5" text-anchor="start" fill="#222" font-weight="normal" >count</text>
<circle cx="253.50" cy="284.60" r="1.60" fill="#000"/>
<text x="259.60" y="286.04" font-size="4.0" text-anchor="start" fill="#333" font-weight="normal" >100</text>
<circle cx="253.50" cy="291.52" r="1.90" fill="#000"/>
<text x="259.60" y="292.96" font-size="4.0" text-anchor="start" fill="#333" font-weight="normal" >200</text>
<circle cx="253.50" cy="298.44" r="2.15" fill="#000"/>
<text x="259.60" y="299.88" font-size="4.0" text-anchor="start" fill="#333" font-weight="normal" >300</text>
<circle cx="253.50" cy="305.36" r="2.35" fill="#000"/>
<text x="259.60" y="306.80" font-size="4.0" text-anchor="start" fill="#333" font-weight="normal" >400</text>
<circle cx="253.50" cy="312.28" r="2.55" fill="#000"/>
<text x="259.60" y="313.72" font-size="4.0" text-anchor="start" fill="#333" font-weight="normal" >500</text>
<circle cx="253.50" cy="319.20" r="2.75" fill="#000"/>
<text x="259.60" y="320.64" font-size="4.0" text-anchor="start" fill="#333" font-weight="normal" >600</text>
<text x="282.50" y="192.50" font-size="12.8" text-anchor="start" fill="#333" font-weight="normal" >d</text>
<rect x="399.40" y="194.70" width="123.40" height="149.70" fill="#ffffff" />
<line x1="403.30" y1="194.70" x2="403.30" y2="344.40" stroke="#ebebeb" stroke-width="0.5"/>
<line x1="417.59" y1="194.70" x2="417.59" y2="344.40" stroke="#ebebeb" stroke-width="0.3"/>
<line x1="431.88" y1="194.70" x2="431.88" y2="344.40" stroke="#ebebeb" stroke-width="0.5"/>
<line x1="446.17" y1="194.70" x2="446.17" y2="344.40" stroke="#ebebeb" stroke-width="0.3"/>
<line x1="460.46" y1="194.70" x2="460.46" y2="344.40" stroke="#ebebeb" stroke-width="0.5"/>
<line x1="474.75" y1="194.70" x2="474.75" y2="344.40" stroke="#ebebeb" stroke-width="0.3"/>
<line x1="489.04" y1="194.70" x2="489.04" y2="344.40" stroke="#ebebeb" stroke-width="0.5"/>
<line x1="503.33" y1="194.70" x2="503.33" y2="344.40" stroke="#ebebeb" stroke-width="0.3"/>
<line x1="517.62" y1="194.70" x2="517.62" y2="344.40" stroke="#ebebeb" stroke-width="0.5"/>
<line x1="399.40" y1="199.30" x2="522.80" y2="199.30" stroke="#ebebeb" stroke-width="0.5"/>
<line x1="399.40" y1="206.70" x2="522.80" y2="206.70" stroke="#ebebeb" stroke-width="0.5"/>
<line x1="399.40" y1="214.10" x2="522.80" y2="214.10" stroke="#ebebeb" stroke-width="0.5"/>
<line x1="399.40" y1="221.50" x2="522.80" y2="221.50" stroke="#ebebeb" stroke-width="0.5"/>
<line x1="399.40" y1="228.90" x2="522.80" y2="228.90" stroke="#ebebeb" stroke-width="0.5"/>
<line x1="399.40" y1="236.30" x2="522.80" y2="236.30" stroke="#ebebeb" stroke-width="0.5"/>
<line x1="399.40" y1="243.70" x2="522.80" y2="243.70" stroke="#ebebeb" stroke-width="0.5"/>
<line x1="399.40" y1="251.10" x2="522.80" y2="251.10" stroke="#ebebeb" stroke-width="0.5"/>
<line x1="399.40" y1="258.50" x2="522.80" y2="258.50" stroke="#ebebeb" stroke-width="0.5"/>
<line x1="399.40" y1="265.90" x2="522.80" y2="265.90" stroke="#ebebeb" stroke-width="0.5"/>
<line x1="399.40" y1="273.30" x2="522.80" y2="273.30" stroke="#ebebeb" stroke-width="0.5"/>
<line x1="399.40" y1="280.70" x2="522.80" y2="280.70" stroke="#ebebeb" stroke-width="0.5"/>
<line x1="399.40" y1="288.10" x2="522.80" y2="288.10" stroke="#ebebeb" stroke-width="0.5"/>
<line x1="399.40" y1="295.50" x2="522.80" y2="295.50" stroke="#ebebeb" stroke-width="0.5"/>
<line x1="399.40" y1="302.90" x2="522.80" y2="302.90" stroke="#ebebeb" stroke-width="0.5"/>
<line x1="399.40" y1="310.30" x2="522.80" y2="310.30" stroke="#ebebeb" stroke-width="0.5"/>
<line x1="399.40" y1="317.70" x2="522.80" y2="317.70" stroke="#ebebeb" stroke-width="0.5"/>
<line x1="399.40" y1="325.10" x2="522.80" y2="325.10" stroke="#ebebeb" stroke-width="0.5"/>
<line x1="399.40" y1="332.50" x2="522.80" y2="332.50" stroke="#ebebeb" stroke-width="0.5"/>
<line x1="399.40" y1="339.90" x2="522.80" y2="339.90" stroke="#ebebeb" stroke-width="0.5"/>
<text transform="translate(396.80,201.44) scale(0.8475,1)" font-size="4.720" text-anchor="end" fill="#111" font-weight="normal" stroke="#111" stroke-width="0.07">Ribosome</text>
<line x1="397.50" y1="199.30" x2="399.20" y2="199.30" stroke="#444" stroke-width="0.6"/>
<circle cx="423.10" cy="199.30" r="3.00" fill="#ff0014"/>
<text transform="translate(396.80,208.84) scale(0.8475,1)" font-size="4.720" text-anchor="end" fill="#111" font-weight="normal" stroke="#111" stroke-width="0.07">Oxidative phosphorylation</text>
<line x1="397.50" y1="206.70" x2="399.20" y2="206.70" stroke="#444" stroke-width="0.6"/>
<circle cx="416.00" cy="206.70" r="2.70" fill="#ff0014"/>
<text transform="translate(396.80,216.24) scale(0.8475,1)" font-size="4.720" text-anchor="end" fill="#111" font-weight="normal" stroke="#111" stroke-width="0.07">Protein export</text>
<line x1="397.50" y1="214.10" x2="399.20" y2="214.10" stroke="#444" stroke-width="0.6"/>
<circle cx="438.90" cy="214.10" r="2.10" fill="#fe001a"/>
<text transform="translate(396.80,223.64) scale(0.8475,1)" font-size="4.720" text-anchor="end" fill="#111" font-weight="normal" stroke="#111" stroke-width="0.07">Plant- pathogen interaction</text>
<line x1="397.50" y1="221.50" x2="399.20" y2="221.50" stroke="#444" stroke-width="0.6"/>
<circle cx="456.20" cy="221.50" r="1.70" fill="#fe001a"/>
<text transform="translate(396.80,231.04) scale(0.8475,1)" font-size="4.720" text-anchor="end" fill="#111" font-weight="normal" stroke="#111" stroke-width="0.07">Biosynthesis of nucleotide sugars</text>
<line x1="397.50" y1="228.90" x2="399.20" y2="228.90" stroke="#444" stroke-width="0.6"/>
<circle cx="420.50" cy="228.90" r="2.10" fill="#fc0026"/>
<text transform="translate(396.80,238.44) scale(0.8475,1)" font-size="4.720" text-anchor="end" fill="#111" font-weight="normal" stroke="#111" stroke-width="0.07">Citrate cycle (TCA cycle)</text>
<line x1="397.50" y1="236.30" x2="399.20" y2="236.30" stroke="#444" stroke-width="0.6"/>
<circle cx="417.00" cy="236.30" r="2.10" fill="#fb002c"/>
<text transform="translate(396.80,245.84) scale(0.8475,1)" font-size="4.720" text-anchor="end" fill="#111" font-weight="normal" stroke="#111" stroke-width="0.07">Arginine biosynthesis</text>
<line x1="397.50" y1="243.70" x2="399.20" y2="243.70" stroke="#444" stroke-width="0.6"/>
<circle cx="418.00" cy="243.70" r="2.00" fill="#fa0032"/>
<text transform="translate(396.80,253.24) scale(0.8475,1)" font-size="4.720" text-anchor="end" fill="#111" font-weight="normal" stroke="#111" stroke-width="0.07">Pentose phosphate pathway</text>
<line x1="397.50" y1="251.10" x2="399.20" y2="251.10" stroke="#444" stroke-width="0.6"/>
<circle cx="415.80" cy="251.10" r="2.00" fill="#f90038"/>
<text transform="translate(396.80,260.64) scale(0.8475,1)" font-size="4.720" text-anchor="end" fill="#111" font-weight="normal" stroke="#111" stroke-width="0.07">N- Glycan biosynthesis</text>
<line x1="397.50" y1="258.50" x2="399.20" y2="258.50" stroke="#444" stroke-width="0.6"/>
<circle cx="415.80" cy="258.50" r="2.00" fill="#f90038"/>
<text transform="translate(396.80,268.04) scale(0.8475,1)" font-size="4.720" text-anchor="end" fill="#111" font-weight="normal" stroke="#111" stroke-width="0.07">SNARE interactions in vesicular transport</text>
<line x1="397.50" y1="265.90" x2="399.20" y2="265.90" stroke="#444" stroke-width="0.6"/>
<circle cx="421.90" cy="265.90" r="1.70" fill="#f80040"/>
<text transform="translate(396.80,275.44) scale(0.8475,1)" font-size="4.720" text-anchor="end" fill="#111" font-weight="normal" stroke="#111" stroke-width="0.07">Pyrimidine metabolism</text>
<line x1="397.50" y1="273.30" x2="399.20" y2="273.30" stroke="#444" stroke-width="0.6"/>
<circle cx="413.00" cy="273.30" r="2.00" fill="#f4005e"/>
<text transform="translate(396.80,282.84) scale(0.8475,1)" font-size="4.720" text-anchor="end" fill="#111" font-weight="normal" stroke="#111" stroke-width="0.07">Protein processing in endoplasmic reticulum</text>
<line x1="397.50" y1="280.70" x2="399.20" y2="280.70" stroke="#444" stroke-width="0.6"/>
<circle cx="407.10" cy="280.70" r="2.40" fill="#ef007c"/>
<text transform="translate(396.80,290.24) scale(0.8475,1)" font-size="4.720" text-anchor="end" fill="#111" font-weight="normal" stroke="#111" stroke-width="0.07">Carbon fixation in photosynthetic organisms</text>
<line x1="397.50" y1="288.10" x2="399.20" y2="288.10" stroke="#444" stroke-width="0.6"/>
<circle cx="414.00" cy="288.10" r="2.00" fill="#f20067"/>
<text transform="translate(396.80,297.64) scale(0.8475,1)" font-size="4.720" text-anchor="end" fill="#111" font-weight="normal" stroke="#111" stroke-width="0.07">Glutathione metabolism</text>
<line x1="397.50" y1="295.50" x2="399.20" y2="295.50" stroke="#444" stroke-width="0.6"/>
<circle cx="410.20" cy="295.50" r="2.05" fill="#ea0099"/>
<text transform="translate(396.80,305.04) scale(0.8475,1)" font-size="4.720" text-anchor="end" fill="#111" font-weight="normal" stroke="#111" stroke-width="0.07">Phenylalanine metabolism</text>
<line x1="397.50" y1="302.90" x2="399.20" y2="302.90" stroke="#444" stroke-width="0.6"/>
<circle cx="408.00" cy="302.90" r="2.20" fill="#de00b1"/>
<text transform="translate(396.80,312.44) scale(0.8475,1)" font-size="4.720" text-anchor="end" fill="#111" font-weight="normal" stroke="#111" stroke-width="0.07">Ubiquinone and other terpenoid- quinone biosynthesis</text>
<line x1="397.50" y1="310.30" x2="399.20" y2="310.30" stroke="#444" stroke-width="0.6"/>
<circle cx="413.40" cy="310.30" r="1.75" fill="#aa00dc"/>
<text transform="translate(396.80,319.84) scale(0.8475,1)" font-size="4.720" text-anchor="end" fill="#111" font-weight="normal" stroke="#111" stroke-width="0.07">Glycosylphosphatidylinositol (GPI)- anchor biosynthesis</text>
<line x1="397.50" y1="317.70" x2="399.20" y2="317.70" stroke="#444" stroke-width="0.6"/>
<circle cx="413.40" cy="317.70" r="1.75" fill="#aa00dc"/>
<text transform="translate(396.80,327.24) scale(0.8475,1)" font-size="4.720" text-anchor="end" fill="#111" font-weight="normal" stroke="#111" stroke-width="0.07">Fatty acid elongation</text>
<line x1="397.50" y1="325.10" x2="399.20" y2="325.10" stroke="#444" stroke-width="0.6"/>
<circle cx="418.40" cy="325.10" r="1.70" fill="#9f00e5"/>
<text transform="translate(396.80,334.64) scale(0.8475,1)" font-size="4.720" text-anchor="end" fill="#111" font-weight="normal" stroke="#111" stroke-width="0.07">Polyketide sugar unit biosynthesis</text>
<line x1="397.50" y1="332.50" x2="399.20" y2="332.50" stroke="#444" stroke-width="0.6"/>
<circle cx="517.00" cy="332.50" r="1.20" fill="#9500ee"/>
<text transform="translate(396.80,342.04) scale(0.8475,1)" font-size="4.720" text-anchor="end" fill="#111" font-weight="normal" stroke="#111" stroke-width="0.07">Tyrosine metabolism</text>
<line x1="397.50" y1="339.90" x2="399.20" y2="339.90" stroke="#444" stroke-width="0.6"/>
<circle cx="404.60" cy="339.90" r="2.35" fill="#8000ff"/>
<rect x="399.40" y="194.70" width="123.40" height="149.70" fill="none" stroke="#a6a6a6" stroke-width="1.0"/>
<line x1="403.30" y1="344.40" x2="403.30" y2="345.80" stroke="#555" stroke-width="0.4"/>
<text transform="translate(403.30,349.73) scale(0.8929,1)" font-size="4.144" text-anchor="middle" fill="#444" font-weight="normal" stroke="#333" stroke-width="0.06">0.2</text>
<line x1="431.88" y1="344.40" x2="431.88" y2="345.80" stroke="#555" stroke-width="0.4"/>
<text transform="translate(431.88,349.73) scale(0.8929,1)" font-size="4.144" text-anchor="middle" fill="#444" font-weight="normal" stroke="#333" stroke-width="0.06">0.4</text>
<line x1="460.46" y1="344.40" x2="460.46" y2="345.80" stroke="#555" stroke-width="0.4"/>
<text transform="translate(460.46,349.73) scale(0.8929,1)" font-size="4.144" text-anchor="middle" fill="#444" font-weight="normal" stroke="#333" stroke-width="0.06">0.6</text>
<line x1="489.04" y1="344.40" x2="489.04" y2="345.80" stroke="#555" stroke-width="0.4"/>
<text transform="translate(489.04,349.73) scale(0.8929,1)" font-size="4.144" text-anchor="middle" fill="#444" font-weight="normal" stroke="#333" stroke-width="0.06">0.8</text>
<line x1="517.62" y1="344.40" x2="517.62" y2="345.80" stroke="#555" stroke-width="0.4"/>
<text transform="translate(517.62,349.73) scale(0.8929,1)" font-size="4.144" text-anchor="middle" fill="#444" font-weight="normal" stroke="#333" stroke-width="0.06">1.0</text>
<text x="460.80" y="355.92" font-size="5.6" text-anchor="middle" fill="#222" font-weight="normal" >Rich factor</text>
<text x="528.80" y="234.73" font-size="4.25" text-anchor="start" fill="#222" font-weight="normal" >pvalue</text>
<rect x="529.30" y="237.30" width="6.80" height="34.80" fill="url(#gc)" />
<line x1="529.30" y1="242.90" x2="530.60" y2="242.90" stroke="#fff" stroke-width="0.3"/>
<line x1="534.80" y1="242.90" x2="536.10" y2="242.90" stroke="#fff" stroke-width="0.3"/>
<text x="538.50" y="244.41" font-size="4.2" text-anchor="start" fill="#333" font-weight="normal" >0.15</text>
<line x1="529.30" y1="252.80" x2="530.60" y2="252.80" stroke="#fff" stroke-width="0.3"/>
<line x1="534.80" y1="252.80" x2="536.10" y2="252.80" stroke="#fff" stroke-width="0.3"/>
<text x="538.50" y="254.31" font-size="4.2" text-anchor="start" fill="#333" font-weight="normal" >0.10</text>
<line x1="529.30" y1="262.60" x2="530.60" y2="262.60" stroke="#fff" stroke-width="0.3"/>
<line x1="534.80" y1="262.60" x2="536.10" y2="262.60" stroke="#fff" stroke-width="0.3"/>
<text x="538.50" y="264.11" font-size="4.2" text-anchor="start" fill="#333" font-weight="normal" >0.05</text>
<text x="529.30" y="284.96" font-size="4.6" text-anchor="start" fill="#222" font-weight="normal" >count</text>
<circle cx="532.40" cy="291.00" r="1.80" fill="#000"/>
<text x="539.00" y="292.40" font-size="3.9" text-anchor="start" fill="#333" font-weight="normal" >10</text>
<circle cx="532.40" cy="297.90" r="2.15" fill="#000"/>
<text x="539.00" y="299.30" font-size="3.9" text-anchor="start" fill="#333" font-weight="normal" >20</text>
<circle cx="532.40" cy="304.80" r="2.50" fill="#000"/>
<text x="539.00" y="306.20" font-size="3.9" text-anchor="start" fill="#333" font-weight="normal" >30</text>
</svg>
</body></html>
